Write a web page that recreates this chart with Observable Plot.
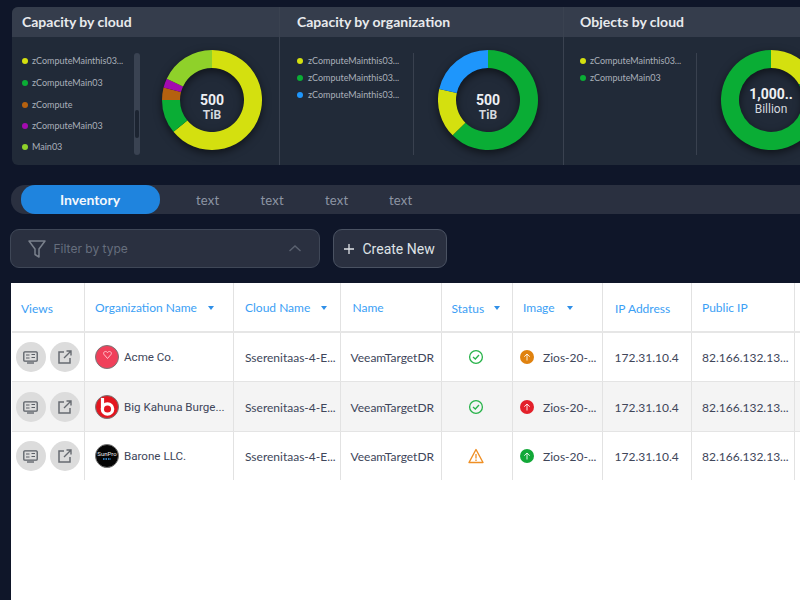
<!DOCTYPE html>
<html><head><meta charset="utf-8">
<script src="https://cdn.jsdelivr.net/npm/d3@7"></script>
<script src="https://cdn.jsdelivr.net/npm/@observablehq/plot@0.6"></script>
<style>
html,body{margin:0;padding:0;width:800px;height:600px;overflow:hidden;background:#0f1629;}
body{position:relative;font-family:Lato,sans-serif;}
.a{position:absolute;white-space:nowrap;line-height:1;}
.box{position:absolute;box-sizing:border-box;}
</style></head><body><script>
// ---- data ----
const cloudNames = ["zComputeMainthis03...","zComputeMain03","zCompute","zComputeMain03","Main03"];
const cloudValues = [64,11,4,3,18];
const cloudColors = ["#d4e00f","#0aad35","#b5610f","#a30bb0","#8fd12a"];
const orgNames = ["zComputeMainthis03...","zComputeMainthis03...","zComputeMainthis03..."];
const orgOrder = [1,0,2];
const orgValues = [16,62.5,21.5];
const orgColors = ["#d4e00f","#0aad35","#1e96fc"];
const objNames = ["zComputeMainthis03...","zComputeMain03"];
const objValues = [17,83];
const objColors = ["#d4e00f","#0aad35"];
const tabs = ["Inventory","text","text","text","text"];
const headers = ["Views","Organization Name","Cloud Name","Name","Status","Image","IP Address","Public IP"];
const sortable = [false,true,true,false,true,true,false,false];
const orgs = ["Acme Co.","Big Kahuna Burge...","Barone LLC."];
const logos = ["#f0405a","#e3161f","#050505"];
const clouds = ["Sserenitaas-4-E...","Sserenitaas-4-E...","Sserenitaas-4-E..."];
const vmNames = ["VeeamTargetDR","VeeamTargetDR","VeeamTargetDR"];
const statuses = ["ok","ok","warn"];
const imageColors = ["#e0820f","#e3202a","#12a838"];
const images = ["Zios-20-...","Zios-20-...","Zios-20-..."];
const ips = ["172.31.10.4","172.31.10.4","172.31.10.4"];
const publicIps = ["82.166.132.13...","82.166.132.13...","82.166.132.13..."];

// ---- helpers ----
const body = document.body;
function box(l,t,w,h,css){const d=document.createElement("div");d.className="box";
  d.style.cssText=`left:${l}px;top:${t}px;width:${w}px;height:${h}px;${css||""}`;body.appendChild(d);return d;}
function txt(s,l,cy,size,color,css){const d=document.createElement("div");d.className="a";d.textContent=s;
  d.style.cssText=`left:${l}px;top:${cy-size/2}px;font-size:${size}px;color:${color};${css||""}`;body.appendChild(d);return d;}
function icon(l,t,w,h,inner){const d=box(l,t,w,h);
  d.innerHTML=`<svg width="${w}" height="${h}" viewBox="0 0 ${w} ${h}" style="display:block">${inner}</svg>`;return d;}

function donut(names,values,colors,order,cx,big,small,bigDy,smallDy,smallWeight,smallSize){
  const rows=order.map(i=>({key:i+":"+names[i],value:values[i]}));
  const keys=colors.map((c,i)=>i+":"+names[i]);
  const total=d3.sum(values);
  const R=50,r=32,S=128;
  const chart=Plot.plot({width:S,height:S,margin:0,
    style:{background:"transparent",overflow:"visible"},
    x:{domain:[0,total],range:[0,2*Math.PI],axis:null},
    color:{domain:keys,range:colors},
    marks:[
      Plot.barX(rows,Plot.stackX({x:"value",fill:"key",inset:0,insetLeft:0,insetRight:0,
        render(index,scales,vals,dims){
          const g=d3.create("svg:g").attr("transform",`translate(${dims.width/2},${dims.height/2})`)
            .style("filter","drop-shadow(0px 3px 4px rgba(0,0,0,.55))");
          const arc=d3.arc().innerRadius(r).outerRadius(R);
          for(const i of index){
            g.append("path").attr("fill",vals.fill[i])
             .attr("d",arc({startAngle:vals.x1[i],endAngle:vals.x2[i]}));
          }
          return g.node();
        }})),
      Plot.text([big],{text:d=>d,frameAnchor:"middle",dx:-0.5,dy:bigDy,fontSize:14,fontWeight:700,fontFamily:"Roboto",fill:"#eef0f3"}),
      Plot.text([small],{text:d=>d,frameAnchor:"middle",dx:-0.5,dy:smallDy,fontSize:smallSize,fontWeight:smallWeight,fontFamily:"Roboto",fill:"#d5d9df"})
    ]});
  const w=box(cx-S/2,100-S/2,S,S);w.appendChild(chart);
}
function legend(names,colors,dotX,textX,ys){
  names.forEach((n,i)=>{
    box(dotX-3,ys[i]-3,6,6,`border-radius:50%;background:${colors[i]}`);
    txt(n,textX,ys[i]-0.5,9,"#aab0ba");
  });
}

// ---- summary panel ----
box(12,7,800,158,"background:#212a38;border-radius:6px 0 0 6px");
box(12,7,800,30,"background:#353d4c;border-radius:6px 0 0 0");
box(279,7,1,158,"background:#3a4250");
box(563,7,1,158,"background:#3a4250");
txt("Capacity by cloud",22,22,14,"#e8eaed","font-weight:700");
txt("Capacity by organization",297,22,14,"#e8eaed","font-weight:700");
txt("Objects by cloud",580,22,14,"#e8eaed","font-weight:700");

legend(cloudNames,cloudColors,25,32,[61,83,105,126,147]);
box(134,53,6,102,"background:#3a4352;border-radius:3px");
box(135,110,4,28,"background:#1c2431;border-radius:2px");
donut(cloudNames,cloudValues,cloudColors,[0,1,2,3,4],212,"500","TiB",0,14.5,700,12);

legend(orgNames,orgColors,300,308,[61,78,95]);
box(413,53,1,102,"background:#39414f");
donut(orgNames,orgValues,orgColors,orgOrder,487.7,"500","TiB",0,14.5,700,12);

legend(objNames,objColors,583,590,[61,78]);
box(696,53,1,102,"background:#39414f");
donut(objNames,objValues,objColors,[0,1],771,"1,000..","Billion",-6,9,400,12);

// ---- tabs ----
box(11,185,800,29,"background:#2a3040;border-radius:14px 0 0 14px");
box(21,185,139,29,"background:#1f84de;border-radius:14px");
txt(tabs[0],60,200,14,"#f4f8fc","font-weight:700");
[196,260.5,325,389].forEach((x,i)=>txt(tabs[i+1],x,200,13,"#8d95a4","letter-spacing:.2px"));

// ---- filter ----
box(10,229,310,39,"background:#2a3040;border:1px solid #3f4757;border-radius:9px");
icon(27,239,20,20,`<path d="M2 2 H18 L12 10 V18 L8 15.5 V10 Z" fill="none" stroke="#7a808c" stroke-width="1.5" stroke-linejoin="round"/>`);
txt("Filter by type",53.5,249,12,"#666e7d","font-family:Inter");
icon(288,243,14,10,`<path d="M1.5 8 L7 3 L12.5 8" fill="none" stroke="#5b6270" stroke-width="1.4"/>`);
box(333,229,114,39,"background:#2a3040;border:1px solid #4a5262;border-radius:9px");
icon(343,243,12,12,`<path d="M6 1 V11 M1 6 H11" stroke="#dfe2e6" stroke-width="1.3"/>`);
txt("Create New",362.5,249,14,"#dfe2e6","font-family:Roboto");

// ---- table ----
box(11,283,789,317,"background:#fff");
const colX=[84.3,233.8,340.5,441.2,512.7,602.7,691.7,794.3];
box(12,382,789,49,"background:#f4f4f4");
colX.forEach(x=>box(x-.6,283,1.2,197,"background:#e2e2e2"));
box(12,331,789,2,"background:#e6e6e6");
box(12,381,789,1.2,"background:#e4e4e4");
box(12,430.6,789,1.2,"background:#e4e4e4");

const headX=[21,95,245,352.5,451.5,523,615,702];
const headCy=[308.5,308,308,308,309,308,309,307.5];
const arrowX=[0,210.5,323.5,0,497,570,0,0];
const blue="#3ba0f5";
headers.forEach((h,i)=>{
  txt(h,headX[i],headCy[i],12,blue);
  if(sortable[i]) icon(arrowX[i]-3,306,6,4,`<path d="M0 0 H6 L3 4 Z" fill="#2f8fe8"/>`);
});
const ink="#40465a";
const rowCy=[357,407,456];
orgs.forEach((o,r)=>{
  const cy=rowCy[r];
  // view buttons
  box(16,cy-15,30,30,"background:#dcdcdc;border-radius:50%");
  box(50,cy-15,30,30,"background:#dcdcdc;border-radius:50%");
  icon(23,cy-6,15,13,`<rect x=".8" y=".8" width="13.4" height="9.4" rx="1" fill="none" stroke="#5a5f66" stroke-width="1.3"/><path d="M3 4 H6.5 M8.5 3.5 H12 M3 7 H6.5 M8.5 6.5 H12" stroke="#5a5f66" stroke-width="1.2"/><path d="M4 12 H11" stroke="#5a5f66" stroke-width="1.3"/>`);
  icon(58,cy-7,14,14,`<path d="M6 2 H1 V13 H12 V8" fill="none" stroke="#666a70" stroke-width="1.5"/><path d="M6 8 L12.5 1.5 M8.5 1 H13 V5.5" fill="none" stroke="#666a70" stroke-width="1.4"/>`);
  // logo
  box(95,cy-12,24,24,`background:${logos[r]};border-radius:50%;border:1px solid #777`);
  if(r==0) icon(102.5,cy-7,9,9,`<path d="M4.5 8.5 L.8 4.2 C-.2 1.8 3 .3 4.5 2.6 C6 .3 9.2 1.8 8.2 4.2 Z" fill="none" stroke="#ffc2cc" stroke-width="1"/>`);
  if(r==1) icon(98,cy-10,18,20,`<circle cx="9.5" cy="12" r="5.2" fill="none" stroke="#fff" stroke-width="3.2"/><path d="M4.5 1 V12" stroke="#fff" stroke-width="3.2"/>`);
  if(r==2) icon(97,cy-5,20,10,`<text x="10" y="5" font-family="Roboto" font-size="6" fill="#eee" text-anchor="middle">SunPro</text><path d="M6 8 H14" stroke="#3ba0f5" stroke-width="1.5" stroke-dasharray="1.5 1"/>`);
  txt(o,124,cy+0.5,11.6,ink,"font-family:Roboto");
  txt(clouds[r],245,cy+1,12,ink);
  txt(vmNames[r],350.5,cy+1,12,ink);
  if(statuses[r]=="ok") icon(468,cy-8,16,16,`<circle cx="8" cy="8" r="6.4" fill="none" stroke="#28b34a" stroke-width="1.3"/><path d="M5 8 L7.3 10 L11 6" fill="none" stroke="#28b34a" stroke-width="1.3"/>`);
  else icon(468,cy-8,16,16,`<path d="M8 1.5 L15 14.5 H1 Z" fill="none" stroke="#ef8f24" stroke-width="1.4" stroke-linejoin="round"/><path d="M8 6 V10.5 M8 11.5 V13" stroke="#ef8f24" stroke-width="1.3"/>`);
  box(520,cy-7,14,14,`background:${imageColors[r]};border-radius:50%`);
  icon(523,cy-4,8,8,`<path d="M4 7.5 V1 M1.2 3.7 L4 1 L6.8 3.7" fill="none" stroke="#fff" stroke-opacity=".85" stroke-width="1"/>`);
  txt(images[r],543,cy+1,12,ink);
  txt(ips[r],614.5,cy+1,12,ink);
  txt(publicIps[r],702,cy+1,12,ink);
});
</script></body></html>
